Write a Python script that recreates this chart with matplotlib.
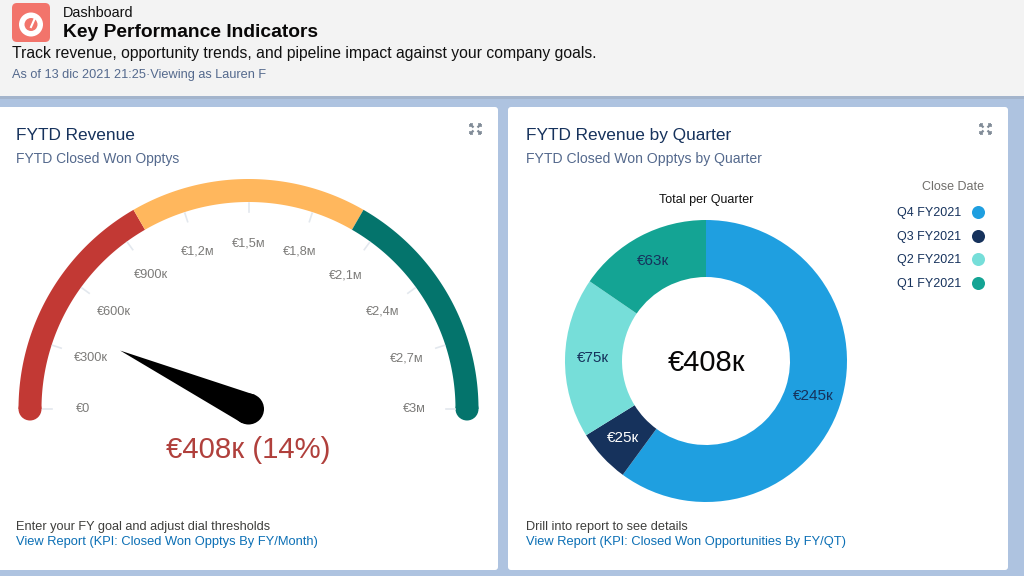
import numpy as np
import matplotlib
matplotlib.use('Agg')
import matplotlib.pyplot as plt
from matplotlib.patches import FancyBboxPatch, Rectangle, Circle, Polygon

plt.rcParams['font.family'] = ['Liberation Sans', 'DejaVu Sans']

# Gauge data
gauge_value = 408000
gauge_max = 3000000
gauge_bands = [0, 1000000, 2000000, 3000000]
gauge_colors = ['#c23934', '#ffb75d', '#04746c']
gauge_ticks = [0, 300000, 600000, 900000, 1200000, 1500000, 1800000, 2100000, 2400000, 2700000, 3000000]
gauge_labels = ['€0', '€300к', '€600к', '€900к', '€1,2м', '€1,5м', '€1,8м', '€2,1м', '€2,4м', '€2,7м', '€3м']

# Donut data
quarters = ['Q4 FY2021', 'Q3 FY2021', 'Q2 FY2021', 'Q1 FY2021']
quarter_values = [245, 25, 75, 63]
quarter_labels = ['€245к', '€25к', '€75к', '€63к']
quarter_colors = ['#1f9fe0', '#16325c', '#76ded9', '#14a494']
quarter_label_colors = ['#16325c', 'white', '#16325c', '#16325c']

W, H = 1024, 576
navy = '#16325c'
grey_blue = '#54698d'

fig = plt.figure(figsize=(W / 100, H / 100), dpi=100, facecolor='#aec3e0')
ax = fig.add_axes([0, 0, 1, 1])
ax.set_xlim(0, W)
ax.set_ylim(H, 0)
ax.axis('off')

# Header
ax.add_patch(Rectangle((0, 0), W, 96, fc='#f3f3f3', ec='none'))
ax.add_patch(Rectangle((0, 96), W, 2.5, fc='#a3b4cc', ec='none'))
ax.add_patch(FancyBboxPatch((15, 6), 32, 33, boxstyle='round,pad=3,rounding_size=5', fc='#f2746b', ec='none'))
ax.add_patch(Circle((31, 24.5), 12, fc='white', ec='none'))
ax.add_patch(Circle((31, 24.5), 6.5, fc='#f2746b', ec='none'))
ax.plot([31, 35], [27, 18], color='white', lw=1.5)
ax.text(63, 13, 'Dashboard', fontsize=10.4, color='#111111', va='center')
ax.text(63, 32.5, 'Key Performance Indicators', fontsize=13.9, fontweight='bold', color='#080707', va='center')
ax.text(12, 53.5, 'Track revenue, opportunity trends, and pipeline impact against your company goals.', fontsize=11.3, color='#111111', va='center')
ax.text(12, 75, 'As of 13 dic 2021 21:25·Viewing as Lauren F', fontsize=9.2, color=grey_blue, va='center')

# Cards
for x0, x1 in [(-6, 498), (508, 1008)]:
    ax.add_patch(FancyBboxPatch((x0 + 3, 110), x1 - x0 - 6, 457, boxstyle='round,pad=3,rounding_size=3', fc='white', ec='none'))


def expand_icon(cx, cy):
    for sx in (-1, 1):
        for sy in (-1, 1):
            px, py = cx + sx * 5.5, cy + sy * 5
            ax.plot([px, px - sx * 3.5], [py, py - sy * 3.5], color='#7f8a96', lw=1.6, solid_capstyle='butt')
            ax.plot([px, px - sx * 3], [py, py], color='#7f8a96', lw=1.1, solid_capstyle='butt')
            ax.plot([px, px], [py, py - sy * 3], color='#7f8a96', lw=1.1, solid_capstyle='butt')


expand_icon(475.5, 129)
expand_icon(985.5, 129)

ax.text(16, 135, 'FYTD Revenue', fontsize=12.4, color=navy, va='center')
ax.text(16, 158.5, 'FYTD Closed Won Opptys', fontsize=10, color=grey_blue, va='center')
ax.text(526, 135.5, 'FYTD Revenue by Quarter', fontsize=12.4, color=navy, va='center')
ax.text(526, 158.5, 'FYTD Closed Won Opptys by Quarter', fontsize=10.05, color=grey_blue, va='center')

ax.text(16, 527, 'Enter your FY goal and adjust dial thresholds', fontsize=9.2, color='#3e3e3c', va='center')
ax.text(16, 542.5, 'View Report (KPI: Closed Won Opptys By FY/Month)', fontsize=9.3, color='#0b6fb5', va='center')
ax.text(526, 527, 'Drill into report to see details', fontsize=9.2, color='#3e3e3c', va='center')
ax.text(526, 542.5, 'View Report (KPI: Closed Won Opportunities By FY/QT)', fontsize=9.3, color='#0b6fb5', va='center')

# Gauge
gx, gy = 248.5, 409
r_outer, r_inner = 230, 207


def to_angle(v):
    return np.pi * v / gauge_max


def polar(v, r):
    a = to_angle(v)
    return gx - r * np.cos(a), gy - r * np.sin(a)


for i, color in enumerate(gauge_colors):
    vals = np.linspace(gauge_bands[i], gauge_bands[i + 1], 80)
    xo, yo = polar(vals, r_outer)
    xi, yi = polar(vals[::-1], r_inner)
    ax.add_patch(Polygon(np.column_stack([np.r_[xo, xi], np.r_[yo, yi]]), fc=color, ec='none'))

# round ends of the dial
cap_r = (r_outer - r_inner) / 2
for v, color in [(gauge_bands[0], gauge_colors[0]), (gauge_bands[-1], gauge_colors[-1])]:
    ax.add_patch(Circle(polar(v, (r_outer + r_inner) / 2), cap_r, fc=color, ec='none'))

for v, lab in zip(gauge_ticks, gauge_labels):
    x0, y0 = polar(v, 206)
    x1, y1 = polar(v, 197)
    ax.plot([x0, x1], [y0, y1], color='#e3e8ee', lw=1.2, zorder=1)
    lx, ly = polar(v, 166)
    ax.text(lx, ly + 0.5, lab, fontsize=9.2, color='#7b7a78', ha='center', va='center')

# Needle
a = to_angle(gauge_value)
tip = polar(gauge_value, 141)
nr = 15.5
perp = np.array([np.sin(a), -np.cos(a)])
ax.add_patch(Polygon([tip, (gx + perp[0] * nr, gy + perp[1] * nr), (gx - perp[0] * nr, gy - perp[1] * nr)], fc='black', ec='none'))
ax.add_patch(Circle((gx, gy), nr, fc='black', ec='none'))

ax.text(248.5, 450.5, '€408к (14%)', fontsize=21.2, color='#b0403c', ha='center', va='center')

# Donut
cx, cy, R = 706, 361, 141
ax_pie = fig.add_axes([(cx - R) / W, 1 - (cy + R) / H, 2 * R / W, 2 * R / H])
wedges, texts = ax_pie.pie(quarter_values, colors=quarter_colors, labels=quarter_labels, startangle=90, counterclock=False,
                           radius=1, labeldistance=0.8, wedgeprops={'width': 57 / 141, 'linewidth': 0},
                           textprops={'fontsize': 11, 'ha': 'center', 'va': 'center'})
for t, c in zip(texts, quarter_label_colors):
    t.set_color(c)
ax_pie.set_xlim(-1, 1)
ax_pie.set_ylim(-1, 1)
ax_pie.text(0, -0.015, '€408к', fontsize=21, color='#080707', ha='center', va='center')

ax.text(706, 200, 'Total per Quarter', fontsize=9, color='#111111', ha='center', va='center')

# Legend
ax.text(984, 186.5, 'Close Date', fontsize=9, color='#706e6b', ha='right', va='center')
for i, q in enumerate(quarters):
    y = 212 + i * 23.6
    ax.text(961, y + 1, q, fontsize=9, color='#16325c', ha='right', va='center')
    ax.scatter([978], [y], s=88, color=quarter_colors[i], linewidths=0)

fig.savefig('out.png', dpi=100)
